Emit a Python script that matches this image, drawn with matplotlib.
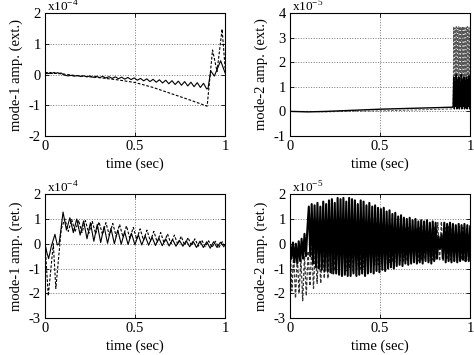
import matplotlib
matplotlib.use('Agg')
import matplotlib.pyplot as plt
import numpy as np

plt.rcParams['font.family'] = 'Liberation Serif'
plt.rcParams['axes.unicode_minus'] = False
plt.rcParams['mathtext.fontset'] = 'custom'
plt.rcParams['mathtext.rm'] = 'Liberation Serif'

# ---- mode-1, extension (x1e-4) ----
m1e_solid_t = [0.0, 0.01, 0.02, 0.03, 0.04, 0.05, 0.06, 0.07, 0.08, 0.09, 0.1,
               0.11, 0.1275, 0.145, 0.1625, 0.18, 0.1975, 0.215, 0.2325, 0.25, 0.2675,
               0.285, 0.3025, 0.32, 0.3375, 0.355, 0.3725, 0.39, 0.4075, 0.425, 0.4425,
               0.46, 0.4775, 0.495, 0.5125, 0.53, 0.5475, 0.565, 0.5825, 0.6, 0.6175,
               0.635, 0.6525, 0.67, 0.6875, 0.705, 0.7225, 0.74, 0.7575, 0.775, 0.7925,
               0.81, 0.8275, 0.845, 0.8625, 0.88, 0.8975,
               0.905, 0.92, 0.94, 0.975, 1.0]
m1e_solid_y = [0.03, 0.07, 0.03, 0.07, 0.04, 0.07, 0.04, 0.06, 0.04, 0.05, 0.0,
               -0.02, -0.045, -0.025, -0.055, -0.03, -0.065, -0.04, -0.075, -0.045, -0.09,
               -0.055, -0.1, -0.06, -0.11, -0.07, -0.125, -0.075, -0.135, -0.085, -0.15,
               -0.095, -0.165, -0.11, -0.185, -0.125, -0.205, -0.14, -0.23, -0.155, -0.25,
               -0.17, -0.275, -0.185, -0.3, -0.2, -0.325, -0.215, -0.35, -0.23, -0.37,
               -0.25, -0.395, -0.265, -0.42, -0.285, -0.47,
               -0.45, 0.12, -0.05, 0.45, 0.05]
m1e_dash_t = [0.0, 0.05, 0.1, 0.15, 0.2, 0.3, 0.4, 0.5, 0.6, 0.7, 0.8, 0.9,
              0.93, 0.955, 0.983, 1.0]
m1e_dash_y = [0.03, 0.04, 0.02, -0.02, -0.05, -0.1, -0.17, -0.26, -0.42, -0.62,
              -0.82, -1.03, 0.8, 0.1, 1.48, 0.2]

# ---- mode-2, extension (x1e-5) ----
m2e_solid_t = [0.0, 0.1, 0.2, 0.3, 0.4, 0.5, 0.6, 0.7, 0.8, 0.9]
m2e_solid_y = [0.0, -0.02, 0.0, 0.03, 0.06, 0.09, 0.11, 0.13, 0.15, 0.17]
m2e_dash_y = [0.0, 0.0, -0.02, 0.0, 0.01, 0.02, 0.04, 0.06, 0.08, 0.1]
m2e_burst_dash = [0.15, 3.45, 0.3, 3.4, 0.2, 3.45, 0.25, 3.4, 0.2, 3.45, 0.3, 3.45,
                  0.2, 3.4, 0.25, 3.45, 0.2, 3.45, 0.3, 3.4, 0.2, 3.45, 0.25, 3.45,
                  0.2, 3.4, 0.3, 3.45]
m2e_burst_solid = [0.2, 1.4, 0.1, 1.2, 0.2, 1.5, 0.1, 1.3, 0.15, 1.4, 0.1, 1.2,
                   0.2, 1.5, 0.1, 1.3, 0.2, 1.4, 0.1, 1.25, 0.15, 1.4, 0.1, 1.3,
                   0.2, 1.45, 0.1, 1.3]

# ---- mode-1, retraction (x1e-4) ----
m1r_solid_t = [0.0, 0.01, 0.02, 0.035, 0.055, 0.068, 0.078, 0.088,
               0.1, 0.119, 0.138, 0.157, 0.176, 0.195, 0.214, 0.233, 0.252, 0.271,
               0.29, 0.309, 0.328, 0.347, 0.366, 0.385, 0.404, 0.423, 0.442, 0.461,
               0.48, 0.499, 0.518, 0.537, 0.556, 0.575, 0.594, 0.613, 0.632, 0.651,
               0.67, 0.689, 0.708, 0.727, 0.746, 0.765, 0.784, 0.803, 0.822, 0.841,
               0.86, 0.879, 0.898, 0.917, 0.936, 0.955, 0.974, 0.993]
m1r_solid_y = [0.0, -0.35, -0.6, -0.1, 0.38, -0.05, 0.0, 0.55,
               1.28, 0.55, 1.05, 0.45, 1.0, 0.35, 0.92, 0.2, 0.85, 0.1,
               0.78, 0.05, 0.7, 0.02, 0.62, 0.0, 0.55, -0.02, 0.48, -0.03,
               0.42, -0.04, 0.36, -0.05, 0.32, -0.06, 0.27, -0.07, 0.23, -0.08,
               0.2, -0.09, 0.17, -0.1, 0.14, -0.1, 0.12, -0.12, 0.1, -0.15,
               0.1, -0.15, 0.08, -0.18, 0.08, -0.15, 0.06, -0.12]
m1r_dash_t = [0.0, 0.018, 0.046, 0.06, 0.09,
              0.11, 0.129, 0.148, 0.167, 0.186, 0.205, 0.224, 0.243, 0.262, 0.281,
              0.3, 0.319, 0.338, 0.357, 0.376, 0.395, 0.414, 0.433, 0.452, 0.471,
              0.49, 0.509, 0.528, 0.547, 0.566, 0.585, 0.604, 0.623, 0.642, 0.661,
              0.68, 0.699, 0.718, 0.737, 0.756, 0.775, 0.794, 0.813, 0.832, 0.851,
              0.87, 0.889, 0.908, 0.927, 0.946, 0.965, 0.984, 1.0]
m1r_dash_y = [0.0, -2.1, 0.0, -1.8, 0.6,
              1.0, 0.5, 0.98, 0.48, 0.95, 0.45, 0.93, 0.42, 0.9, 0.4,
              0.88, 0.37, 0.85, 0.34, 0.82, 0.3, 0.78, 0.26, 0.72, 0.22,
              0.66, 0.18, 0.6, 0.14, 0.55, 0.1, 0.5, 0.06, 0.45, 0.03,
              0.4, 0.0, 0.35, -0.03, 0.3, -0.06, 0.25, -0.08, 0.2, -0.1,
              0.15, -0.12, 0.12, -0.15, 0.1, -0.15, 0.08, -0.12]

# ---- mode-2, retraction (x1e-5), sampled on an even time grid ----
m2r_solid_y = [0.0, -0.6, 0.05, -0.75, 0.0, -0.8, 0.1, -0.7, 0.2, -0.6, 0.4, -0.5, 0.6,
               1.5, -0.5, 1.6, -0.8, 1.55, -0.95, 1.65, -1.0, 1.5, -1.05, 1.7, -1.1,
               1.6, -1.1, 1.75, -1.15, 1.8, -1.2, 1.65, -1.2, 1.85, -1.25, 1.8, -1.3,
               1.85, -1.25, 1.7, -1.3, 1.85, -1.3, 1.8, -1.2, 1.75, -1.3, 1.6, -1.25,
               1.75, -1.2, 1.7, -1.3, 1.55, -1.2, 1.65, -1.15, 1.5, -1.2, 1.55, -1.1,
               1.45, -1.15, 1.4, -1.05, 1.45, -1.1, 1.3, -1.0, 1.35, -0.95, 1.2, -1.0,
               1.25, -0.9, 1.1, -0.85, 1.15, -0.9, 1.05, -0.8, 1.0, -0.85, 1.05, -0.8,
               0.95, -0.75, 1.0, -0.8, 0.9, -0.75, 0.95, -0.8, 0.9, -0.7, 0.95, -0.75,
               0.85, -0.8, 0.9, -0.7, 0.85, -0.6, 0.3, -0.2, 0.35, -0.6, 0.85, -0.75,
               0.8, -0.7, 0.85, -0.75, 0.8, -0.7, 0.75, -0.75, 0.8, -0.7, 0.75, -0.65,
               0.8, -0.7, 0.75, -0.7, 0.7]
m2r_dash_y = [0.0, -1.9, -0.4, -2.2, -0.5, -2.0, -0.6, -2.3, -0.5, -2.1, -0.3,
              -1.7, -0.2, -1.8, -0.1, -1.6, 0.0, -1.6, 0.1, -1.4, 0.2, -1.4, 0.3, -1.2, 0.4, -1.1,
              0.6, -1.0, 0.8, -1.0, 0.9, -1.1, 1.0, -1.0, 1.0, -1.1,
              1.0, -1.0, 1.0, -1.0, 0.95, -0.95,
              0.9, -0.9, 0.9, -0.9, 0.85, -0.85,
              0.85, -0.85, 0.8, -0.8, 0.8, -0.8,
              0.75, -0.8, 0.75, -0.75, 0.7, -0.75,
              0.7, -0.7, 0.7, -0.7, 0.65, -0.7,
              0.65, -0.65, 0.7, -0.65, 0.65, -0.7,
              0.65, -0.65, 0.7, -0.65, 0.65, -0.7,
              0.65, -0.65, 0.7, -0.65,
              0.85, -0.7, 0.9, -0.7,
              0.65, -0.65, 0.7, -0.65, 0.65,
              -0.7, 0.65, -0.65, 0.7, -0.65,
              0.65, -0.7, 0.65, -0.65, 0.7]


def style_axes(ax, ylim, yticks, ylabel, exponent):
    ax.set_xlim(0, 1)
    ax.set_ylim(*ylim)
    ax.set_xticks([0, 0.5, 1])
    ax.set_xticklabels(['0', '0.5', '1'])
    ax.set_yticks(yticks)
    ax.set_yticklabels([str(v) for v in yticks])
    ax.grid(True, linestyle=':', color='#777777', linewidth=0.7)
    ax.tick_params(direction='in', length=3, width=0.6, labelsize=10.5, pad=3,
                   top=True, right=True)
    for s in ax.spines.values():
        s.set_linewidth(0.8)
    ax.set_xlabel('time (sec)', fontsize=10.5, labelpad=3)
    ax.set_ylabel(ylabel, fontsize=10.5, labelpad=4)
    ax.text(0.01, 1.015, r'x10$^{\mathrm{%s}}$' % exponent, transform=ax.transAxes,
            fontsize=9.5, ha='left', va='baseline')


fig = plt.figure(figsize=(4.74, 3.55), dpi=100)
ax1 = fig.add_axes([0.095, 0.617, 0.380, 0.346])
ax2 = fig.add_axes([0.612, 0.617, 0.380, 0.346])
ax3 = fig.add_axes([0.095, 0.104, 0.380, 0.349])
ax4 = fig.add_axes([0.612, 0.104, 0.380, 0.349])

dash = (0, (2.5, 1.5))

ax1.plot(m1e_dash_t, m1e_dash_y, color='black', lw=0.8, linestyle=dash)
ax1.plot(m1e_solid_t, m1e_solid_y, color='black', lw=0.8)
style_axes(ax1, (-2, 2), [-2, -1, 0, 1, 2], 'mode-1 amp. (ext.)', '-4')

burst_t = np.linspace(0.905, 1.0, len(m2e_burst_dash))
ax2.plot(list(m2e_solid_t) + list(burst_t),
         m2e_dash_y + m2e_burst_dash, color='#555555', lw=0.7, linestyle=dash)
ax2.plot(list(m2e_solid_t) + list(burst_t),
         m2e_solid_y + m2e_burst_solid, color='black', lw=1.0)
style_axes(ax2, (-1, 4), [-1, 0, 1, 2, 3, 4], 'mode-2 amp. (ext.)', '-5')

ax3.plot(m1r_dash_t, m1r_dash_y, color='black', lw=0.8, linestyle=dash)
ax3.plot(m1r_solid_t, m1r_solid_y, color='black', lw=0.8)
style_axes(ax3, (-3, 2), [-3, -2, -1, 0, 1, 2], 'mode-1 amp. (ret.)', '-4')

ax4.plot(np.linspace(0, 1, len(m2r_dash_y)), m2r_dash_y, color='#333333', lw=0.9,
         linestyle=dash)
ax4.plot(np.linspace(0, 1, len(m2r_solid_y)), m2r_solid_y, color='black', lw=1.5)
style_axes(ax4, (-3, 2), [-3, -2, -1, 0, 1, 2], 'mode-2 amp. (ret.)', '-5')

fig.savefig('out.png', dpi=100)
